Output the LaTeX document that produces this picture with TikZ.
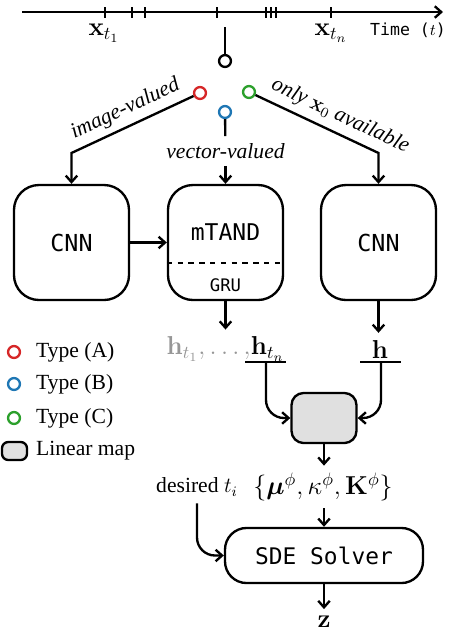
\documentclass[tikz,border=0pt]{standalone}
\usepackage{amsmath}
\usepackage[no-math]{fontspec}
\setmainfont{Liberation Serif}
\setmonofont{DejaVu Sans Mono}
\usetikzlibrary{arrows.meta,calc}

\definecolor{typea}{RGB}{214,39,40}
\definecolor{typeb}{RGB}{31,119,180}
\definecolor{typec}{RGB}{44,160,44}
\definecolor{linfill}{RGB}{224,224,224}
\definecolor{hgray}{RGB}{150,150,150}

\begin{document}
\begin{tikzpicture}[x=0.5556pt, y=-0.5556pt, line width=1.3pt,
	>={Straight Barb[length=3.6pt,width=6.4pt]},
	every node/.style={font=\fontsize{12}{14}\selectfont},
	netbox/.style={draw, rounded corners=13.9pt, minimum width=63.9pt, minimum height=63.9pt, font=\fontsize{13}{15}\selectfont\ttfamily},
	linbox/.style={draw, fill=linfill, rounded corners=6.7pt, minimum width=36.1pt, minimum height=27.8pt},
	solverbox/.style={draw, rounded corners=12pt, minimum width=110pt, minimum height=30.6pt, font=\fontsize{12.7}{15}\selectfont\ttfamily},
	port/.style={circle, draw, minimum size=6.6pt, inner sep=0pt},
	edgetext/.style={font=\fontsize{12}{14}\selectfont\itshape},
	mathtext/.style={font=\fontsize{14}{16}\selectfont}]
	
	\useasboundingbox (0,0) rectangle (450,631);
	
	\draw[->] (22,12) -- (443,12);
	\foreach \x in {105,132,145,217,266,271,276,331}
		\draw (\x,7) -- (\x,18);
	\node[mathtext] (xfirst) at (104,33) {$\mathbf{x}_{t_1}$};
	\node[mathtext] (xlast) at (331,33) {$\mathbf{x}_{t_n}$};
	\node[font=\fontsize{9.2}{11}\selectfont] (time) at (408,30) {\texttt{Time (}$t$\texttt{)}};
	
	\node[port] (stem) at (225,61) {};
	\draw (225,27) -- (stem);
	
	\node[port, draw=typea] (porta) at (200,93) {};
	\node[port, draw=typeb] (portb) at (225,112) {};
	\node[port, draw=typec] (portc) at (249,92) {};
	
	\node[netbox] (cnnl) at (71.5,242.5) {CNN};
	\node[netbox] (mtand) at (225.5,242.5) {};
	\node[netbox] (cnnr) at (378.5,242.5) {CNN};
	\node[font=\fontsize{12.8}{15}\selectfont\ttfamily] (mtandtxt) at (225.5,232) {mTAND};
	\node[font=\fontsize{9.6}{11}\selectfont\ttfamily] (gru) at (225.5,285) {GRU};
	\draw[dashed] ($(mtand.west)+(0,20.5)$) -- ($(mtand.east)+(0,20.5)$);
	
	\draw[<-] (cnnl.north) -- (71.5,153) -- node[pos=0.5, above, sloped, edgetext] {image-valued} (porta);
	\draw[->] (portc) -- node[pos=0.63, above, sloped, edgetext] {only $\mathbf{x}_0$ available} (378.5,153) -- (cnnr.north);
	\node[edgetext] (vecv) at (225.5,151) {vector-valued};
	\draw (portb) -- (vecv);
	\draw[->] (vecv) -- (mtand);
	\draw[->] (cnnl) -- (mtand);
	
	\node[mathtext] (hseq) at (225.5,349) {$\textcolor{hgray}{\mathbf{h}_{t_1},\ldots,}\mathbf{h}_{t_n}$};
	\node[mathtext] (hvec) at (380,349) {$\mathbf{h}$};
	\draw[->] (mtand) -- (hseq);
	\draw[->] (cnnr) -- (cnnr.south |- hvec.north);
	\coordinate (hbarl) at (266,362);
	\coordinate (hbarr) at (381,362);
	\draw (245,362) -- (286,362);
	\draw (360,362) -- (401,362);
	
	\node[linbox] (lin) at (324,418) {};
	\draw[->, rounded corners=10pt] (hbarl) |- (lin.west);
	\draw[->, rounded corners=10pt] (hbarr) |- (lin.east);
	
	\node[mathtext] (params) at (323,487) {$\{\boldsymbol{\mu}^{\phi},\kappa^{\phi},\mathbf{K}^{\phi}\}$};
	\node (desired) at (197,487) {desired $t_i$};
	\node[solverbox] (sde) at (324,555.5) {SDE Solver};
	\node[mathtext] (z) at (324,622) {$\mathbf{z}$};
	\draw[->] (lin) -- (lin.south |- params.north);
	\draw[->] (lin.south |- params.south) -- (sde);
	\draw[->, rounded corners=10pt] (desired) |- (sde.west);
	\draw[->] (sde) -- (z);
	
	\node[port, draw=typea] (lega) at (14,352) {};
	\node[port, draw=typeb] (legb) at (14,384) {};
	\node[port, draw=typec] (legc) at (14,418) {};
	\node[linbox, minimum width=13.9pt, minimum height=10pt, rounded corners=3.5pt] (legl) at (14.5,451) {};
	\node[anchor=west] at (29,352) {Type (A)};
	\node[anchor=west] at (29,384) {Type (B)};
	\node[anchor=west] at (29,418) {Type (C)};
	\node[anchor=west] at (29,451) {Linear map};
	
\end{tikzpicture}
\end{document}
